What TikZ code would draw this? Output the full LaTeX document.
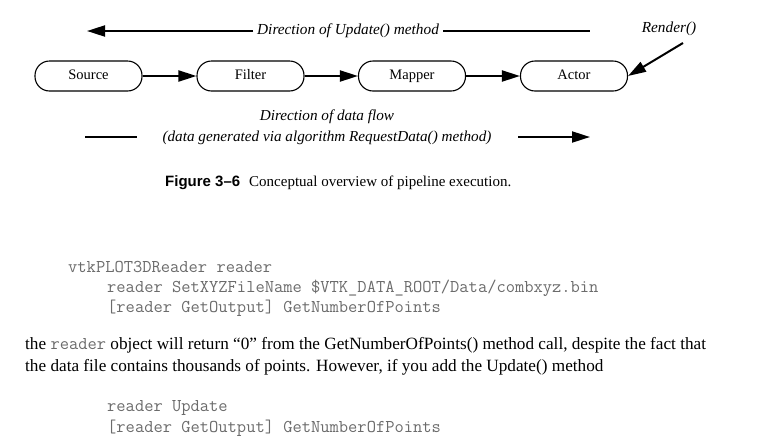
\documentclass[tikz,border=0pt]{standalone}
\usepackage{fontspec}
\setmainfont{Liberation Serif}
\setsansfont{Liberation Sans}
\usetikzlibrary{arrows.meta}
\definecolor{codegray}{gray}{0.42}
\tikzset{
  stage/.style={draw, line width=1.1pt, rounded corners=14.5pt, minimum width=107pt, minimum height=30pt, inner sep=0pt, text height=10pt, text depth=3pt, font=\fontsize{14.5}{16}\selectfont},
  flow/.style={line width=2pt, -{Triangle[length=18pt,width=11pt]}},
  plain/.style={line width=2pt},
  lbl/.style={font=\fontsize{15.3}{17}\selectfont\itshape, inner sep=0pt},
  code/.style={font=\fontsize{18}{20}\selectfont\ttfamily, text=codegray, anchor=base west, inner sep=0pt},
  body/.style={font=\fontsize{17.2}{22}\selectfont, anchor=base west, inner sep=0pt}
}
\begin{document}
\begin{tikzpicture}[x=1pt,y=-1pt]
\useasboundingbox (0,0) rectangle (758,445);
% top label
\node[lbl, anchor=west] (upd) at (257,31) {Direction of Update() method};
\coordinate (updL) at (87,31);
\coordinate (updR) at (590,31);
\draw[flow] (upd.west) ++(-4,0) coordinate (updA) (updA) -- (updL);
\draw[plain] ([xshift=4pt]upd.east) -- (updR);
% render
\node[lbl] (render) at (669,29) {Render()};
% stages
\node[stage] (source) at (88.5,76) {Source};
\node[stage] (filter) at (250.5,76) {Filter};
\node[stage] (mapper) at (412,76) {Mapper};
\node[stage] (actor) at (574,76) {Actor};
\draw[flow] (source) -- (filter);
\draw[flow] (filter) -- (mapper);
\draw[flow] (mapper) -- (actor);
\coordinate (rstart) at (683,43);
\draw[flow] (rstart) -- (actor.east);
% data flow label
\node[lbl, align=center, font=\fontsize{15.2}{21}\selectfont\itshape] (df) at (327,127) {Direction of data flow\\(data generated via algorithm RequestData() method)};
\coordinate (dfL1) at (85,137);
\coordinate (dfL2) at (137,137);
\coordinate (dfR1) at (518,137);
\coordinate (dfR2) at (590,137);
\draw[plain] (dfL1) -- (dfL2);
\draw[flow] (dfR1) -- (dfR2);
% caption
\node[anchor=base west, inner sep=0pt] (cap) at (165,186) {\fontsize{15}{17}\selectfont\sffamily\bfseries Figure 3--6\hspace{0.6em}\rmfamily\mdseries Conceptual overview of pipeline execution.};
% code block 1
\node[code] (c1) at (68,272) {vtkPLOT3DReader reader};
\node[code] (c2) at (107,292) {reader SetXYZFileName \$VTK\_DATA\_ROOT/Data/combxyz.bin};
\node[code] (c3) at (107,312) {[reader GetOutput] GetNumberOfPoints};
% body
\node[body] (b1) at (25,349) {the {\ttfamily\fontsize{18}{20}\selectfont\color{codegray}reader} object will return “0” from the GetNumberOfPoints() method call, despite the fact that};
\node[body] (b2) at (25,371) {the data file contains thousands of points. However, if you add the Update() method};
% code block 2
\node[code] (c4) at (107,411) {reader Update};
\node[code] (c5) at (107,432) {[reader GetOutput] GetNumberOfPoints};
\end{tikzpicture}
\end{document}
